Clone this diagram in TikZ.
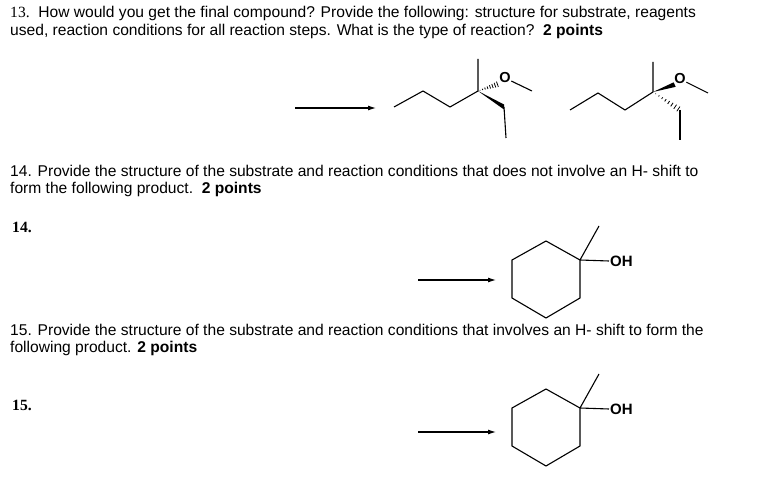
\documentclass[tikz,border=0pt]{standalone}
\usepackage{fontspec}
\setmainfont{Liberation Sans}
\newfontfamily\serifnum{Liberation Serif}
\usetikzlibrary{arrows.meta,calc}
\begin{document}
\begin{tikzpicture}[x=1pt,y=-1pt,
  bond/.style={line width=1.1pt},
  rx/.style={line width=1.1pt,-{Latex[length=8pt,width=5pt]}},
  txt/.style={anchor=west,inner sep=0pt,font=\fontsize{15.6}{18}\selectfont},
  hash/.style={line width=0.8pt}]
\useasboundingbox (0,0) rectangle (758,481);
\fill[white] (0,0) rectangle (758,481);
% texts
\node[txt] (t1) at (10,13) {{\serifnum 13.}\ \ How would you get the final compound? Provide the following: structure for substrate, reagents};
\node[txt] (t2) at (10,31) {used, reaction conditions for all reaction steps. What is the type of reaction?\ \ \textbf{2 points}};
\node[txt] (t3) at (10,171) {14. Provide the structure of the substrate and reaction conditions that does not involve an H- shift to};
\node[txt] (t4) at (10,189) {form the following product.\ \ \textbf{2 points}};
\node[txt] (t5) at (12,227) {\serifnum\bfseries 14.};
\node[txt] (t6) at (10,330) {15. Provide the structure of the substrate and reaction conditions that involves an H- shift to form the};
\node[txt] (t7) at (10,348) {following product. \textbf{2 points}};
\node[txt] (t8) at (12,405) {\serifnum\bfseries 15.};
% 13 arrow
\coordinate (a1) at (295,108); \coordinate (a2) at (376,108);
\draw[rx] (a1) -- (a2);
% molecule 1
\coordinate (m1) at (394,107); \coordinate (m2) at (423,91); \coordinate (m3) at (450,107);
\coordinate (c1) at (478,91); \coordinate (me1) at (478,59);
\node[inner sep=0.5pt,font=\fontsize{14.5}{14}\selectfont\bfseries] (o1) at (505,78) {O};
\coordinate (om1) at (532,91); \coordinate (w1) at (504,107); \coordinate (e1) at (506,138);
\draw[bond] (m1)--(m2)--(m3)--(c1)--(me1);
\draw[bond] (o1)--(om1);
\fill (c1) -- ($(w1)+(0,-2.5)$) -- ($(w1)+(0,2.5)$) -- cycle;
\draw[bond] (w1)--(e1);
\foreach \t in {0.1,0.22,...,0.95}{
  \draw[hash] ($(c1)!\t!(o1.south west)!{\t*3pt}!90:(o1.south west)$) -- ($(c1)!\t!(o1.south west)!{\t*3pt}!-90:(o1.south west)$);}
% molecule 2
\coordinate (n1) at (570,110); \coordinate (n2) at (598,93); \coordinate (n3) at (625,110);
\coordinate (c2) at (653,92); \coordinate (me2) at (653,62);
\node[inner sep=0.5pt,font=\fontsize{14.5}{14}\selectfont\bfseries] (o2) at (680,79) {O};
\coordinate (om2) at (708,93); \coordinate (h2) at (680,110); \coordinate (e2) at (680,140);
\draw[bond] (n1)--(n2)--(n3)--(c2)--(me2);
\draw[bond] (o2)--(om2);
\fill (c2) -- ($(o2.south west)+(0,-2.5)$) -- ($(o2.south west)+(2,2)$) -- cycle;
\draw[bond] (h2)--(e2);
\foreach \t in {0.1,0.22,...,0.95}{
  \draw[hash] ($(c2)!\t!(h2)!{\t*3pt}!90:(h2)$) -- ($(c2)!\t!(h2)!{\t*3pt}!-90:(h2)$);}
% 14
\coordinate (b1) at (418,280); \coordinate (b2) at (496,280);
\draw[rx] (b1) -- (b2);
\coordinate (r1) at (512,260); \coordinate (r2) at (546,241); \coordinate (r3) at (580,260);
\coordinate (r4) at (580,298); \coordinate (r5) at (546,318); \coordinate (r6) at (512,298);
\coordinate (rm) at (599,226);
\node[inner sep=1pt,anchor=west,font=\fontsize{15}{15}\selectfont\bfseries] (oh1) at (609,261) {OH};
\draw[bond] (r1)--(r2)--(r3)--(r4)--(r5)--(r6)--cycle;
\draw[bond] (r3)--(rm); \draw[bond] (r3)--(oh1.west);
% 15
\coordinate (d1) at (418,432); \coordinate (d2) at (496,432);
\draw[rx] (d1) -- (d2);
\coordinate (s1) at (512,408); \coordinate (s2) at (546,389); \coordinate (s3) at (580,408);
\coordinate (s4) at (580,446); \coordinate (s5) at (546,466); \coordinate (s6) at (512,446);
\coordinate (sm) at (599,374);
\node[inner sep=1pt,anchor=west,font=\fontsize{15}{15}\selectfont\bfseries] (oh2) at (609,409) {OH};
\draw[bond] (s1)--(s2)--(s3)--(s4)--(s5)--(s6)--cycle;
\draw[bond] (s3)--(sm); \draw[bond] (s3)--(oh2.west);
\end{tikzpicture}
\end{document}
